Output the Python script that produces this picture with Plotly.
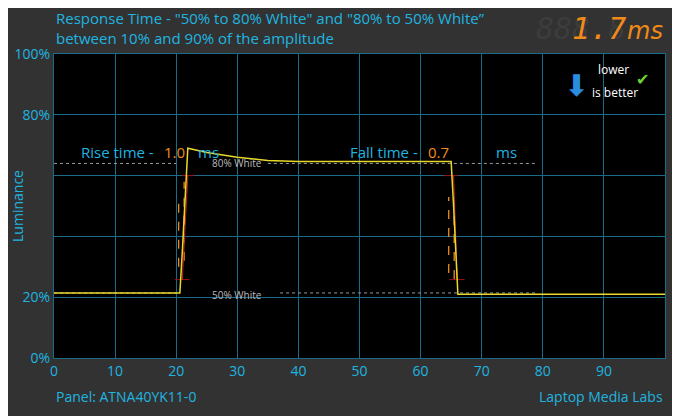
import plotly.graph_objects as go

t = [0, 20.6, 21.0, 21.5, 21.9, 25, 30, 35, 40, 50, 60, 65.0, 65.4, 65.8, 66.1, 70, 80, 90, 100]
lum = [21.4, 21.4, 35, 55, 69, 67.6, 66.0, 65.0, 64.6, 64.6, 64.6, 64.6, 50, 30, 21.0, 21.0, 21.0, 21.0, 21.0]
xticks = [0, 10, 20, 30, 40, 50, 60, 70, 80, 90]
ygrid = [0, 20, 40, 60, 80, 100]
ylabels = ["0%", "20%", "", "", "80%", "100%"]

cyan = "#1fb5e0"
orange = "#f08a1a"
F = "Open Sans"
fig = go.Figure()
for xs, ys in [([0, 20], [64, 64]), ([35, 79], [64, 64]), ([0, 20], [21.4, 21.4]), ([37, 79], [21.4, 21.4])]:
    fig.add_trace(go.Scatter(x=xs, y=ys, mode="lines", line=dict(color="#999", dash="dot", width=1), hoverinfo="skip"))
for xs, ys in [([20.4, 20.4], [30, 53]), ([21.3, 21.3], [32, 58]), ([64.6, 64.6], [28, 53]), ([65.5, 65.5], [26, 52])]:
    fig.add_trace(go.Scatter(x=xs, y=ys, mode="lines", line=dict(color=orange, dash="dash", width=1.3), hoverinfo="skip"))
for xs, ys in [([19.8, 22.2], [25.8, 25.8]), ([20.9, 23.0], [60, 60]), ([63.8, 66.2], [60, 60]), ([64.7, 67.2], [25.8, 25.8])]:
    fig.add_trace(go.Scatter(x=xs, y=ys, mode="lines", line=dict(color="#a01010", width=1), hoverinfo="skip"))
fig.add_trace(go.Scatter(x=[21.0, 21.9], y=[25.8, 60], mode="lines", line=dict(color="#c02020", width=1), hoverinfo="skip"))
fig.add_trace(go.Scatter(x=[65.4, 66.0], y=[60, 25.8], mode="lines", line=dict(color="#c02020", width=1), hoverinfo="skip"))
fig.add_trace(go.Scatter(x=t, y=lum, mode="lines", line=dict(color="#e8d82a", width=1.5), hoverinfo="skip"))

ann = []
def A(x, y, text, size, color, xref="x", yref="y", xa="center", ya="middle", family=F):
    ann.append(dict(x=x, y=y, xref=xref, yref=yref, text=text, showarrow=False, xanchor=xa, yanchor=ya,
                    font=dict(size=size, color=color, family=family)))
A(17.3, 67.8, "Rise time - ", 15, cyan, xa="right")
A(17.6, 67.8, "1.0", 15, orange, xa="left")
A(23.3, 67.8, "ms", 15, cyan, xa="left")
A(60.6, 67.8, "Fall time - ", 15, cyan, xa="right")
A(60.9, 67.8, "0.7", 15, orange, xa="left")
A(72, 67.8, "ms", 15, cyan, xa="left")
A(30, 64.3, "80% White", 10, "#bbb")
A(30, 20.7, "50% White", 10, "#bbb")
A(0, 1.118, "Response Time - \"50% to 80% White\" and \"80% to 50% White\u201d", 15, cyan, xref="paper", yref="paper", xa="left")
A(0, 1.053, "between 10% and 90% of the amplitude", 15, cyan, xref="paper", yref="paper", xa="left")
A(0, -0.125, "Panel: ATNA40YK11-0", 14, cyan, xref="paper", yref="paper", xa="left")
A(1.0, -0.125, "Laptop Media Labs", 14, cyan, xref="paper", yref="paper", xa="right")
A(75.5, -6.5, "Time", 14, cyan)
A(98.5, -6.5, "ms", 14, cyan)
A(0.94, 1.085, "<i>888.8</i>", 30, "#3c3c3c", xref="paper", yref="paper", xa="right", family="DejaVu Sans Mono")
A(0.94, 1.085, "<i>&nbsp;&nbsp;1.7</i>", 30, orange, xref="paper", yref="paper", xa="right", family="DejaVu Sans Mono")
A(1.0, 1.075, "<i>ms</i>", 24, orange, xref="paper", yref="paper", xa="right", family="DejaVu Sans")
A(91.5, 95, "lower", 12, "white")
A(91.8, 87.5, "is better", 12, "white")
A(85.5, 89.5, "⬇", 30, "#2a8ee0", family="DejaVu Sans")
A(96.3, 91.5, "✔", 16, "#6cd030", family="DejaVu Sans")

fig.update_layout(
    width=680, height=416, margin=dict(l=46, r=23, t=46, b=66, autoexpand=False),
    paper_bgcolor="#323232", plot_bgcolor="black", showlegend=False, annotations=ann,
    xaxis=dict(range=[0, 100], tickmode="array", tickvals=xticks, tickfont=dict(size=14, color=cyan, family=F),
               showgrid=True, gridcolor="#1a6a8a", gridwidth=1.3, zeroline=False, showline=True,
               linecolor="#1a6a8a", mirror=True, automargin=False),
    yaxis=dict(range=[0, 100], tickmode="array", tickvals=ygrid, ticktext=ylabels,
               tickfont=dict(size=14, color=cyan, family=F), showgrid=True, gridcolor="#1a6a8a", gridwidth=1.3,
               zeroline=False, showline=True, linecolor="#1a6a8a", mirror=True, automargin=False,
               title=dict(text="Luminance", font=dict(size=14, color=cyan, family=F), standoff=8)),
)
fig.write_html("out.html")
